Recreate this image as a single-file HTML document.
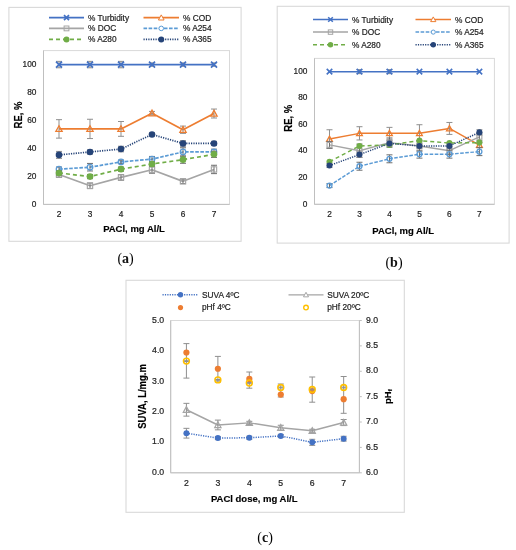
<!DOCTYPE html>
<html><head><meta charset="utf-8"><title>Figure</title>
<style>html,body{margin:0;padding:0;background:#fff;}body{width:516px;height:550px;overflow:hidden;font-family:"Liberation Sans",sans-serif;}svg{display:block;will-change:transform;}</style>
</head><body>
<svg width="516" height="550" viewBox="0 0 516 550">
<rect width="516" height="550" fill="#fff"/>
<rect x="8.9" y="7.4" width="232.20" height="233.90" fill="none" stroke="#D9D9D9" stroke-width="1.1"/>
<rect x="43.5" y="50.6" width="186.00" height="153.80" fill="none" stroke="#D9D9D9" stroke-width="1"/>
<path d="M43.5,50.6V204.4H229.5" fill="none" stroke="#BFBFBF" stroke-width="1"/>
<text x="36.40" y="206.60" font-family="Liberation Sans, sans-serif" font-size="8.3" text-anchor="end" font-weight="normal" fill="#222222" stroke="#222222" stroke-width="0.2" >0</text>
<text x="36.40" y="178.64" font-family="Liberation Sans, sans-serif" font-size="8.3" text-anchor="end" font-weight="normal" fill="#222222" stroke="#222222" stroke-width="0.2" >20</text>
<text x="36.40" y="150.67" font-family="Liberation Sans, sans-serif" font-size="8.3" text-anchor="end" font-weight="normal" fill="#222222" stroke="#222222" stroke-width="0.2" >40</text>
<text x="36.40" y="122.71" font-family="Liberation Sans, sans-serif" font-size="8.3" text-anchor="end" font-weight="normal" fill="#222222" stroke="#222222" stroke-width="0.2" >60</text>
<text x="36.40" y="94.75" font-family="Liberation Sans, sans-serif" font-size="8.3" text-anchor="end" font-weight="normal" fill="#222222" stroke="#222222" stroke-width="0.2" >80</text>
<text x="36.40" y="66.78" font-family="Liberation Sans, sans-serif" font-size="8.3" text-anchor="end" font-weight="normal" fill="#222222" stroke="#222222" stroke-width="0.2" >100</text>
<text x="59.00" y="217.00" font-family="Liberation Sans, sans-serif" font-size="8.3" text-anchor="middle" font-weight="normal" fill="#222222" stroke="#222222" stroke-width="0.2" >2</text>
<text x="90.00" y="217.00" font-family="Liberation Sans, sans-serif" font-size="8.3" text-anchor="middle" font-weight="normal" fill="#222222" stroke="#222222" stroke-width="0.2" >3</text>
<text x="121.00" y="217.00" font-family="Liberation Sans, sans-serif" font-size="8.3" text-anchor="middle" font-weight="normal" fill="#222222" stroke="#222222" stroke-width="0.2" >4</text>
<text x="152.00" y="217.00" font-family="Liberation Sans, sans-serif" font-size="8.3" text-anchor="middle" font-weight="normal" fill="#222222" stroke="#222222" stroke-width="0.2" >5</text>
<text x="183.00" y="217.00" font-family="Liberation Sans, sans-serif" font-size="8.3" text-anchor="middle" font-weight="normal" fill="#222222" stroke="#222222" stroke-width="0.2" >6</text>
<text x="214.00" y="217.00" font-family="Liberation Sans, sans-serif" font-size="8.3" text-anchor="middle" font-weight="normal" fill="#222222" stroke="#222222" stroke-width="0.2" >7</text>
<polyline points="59.00,64.58 90.00,64.58 121.00,64.58 152.00,64.58 183.00,64.58 214.00,64.58" fill="none" stroke="#4472C4" stroke-width="1.7" stroke-linecap="butt" stroke-linejoin="round"/>
<polyline points="59.00,128.90 90.00,128.90 121.00,128.90 152.00,113.24 183.00,129.74 214.00,113.52" fill="none" stroke="#ED7D31" stroke-width="1.7" stroke-linecap="butt" stroke-linejoin="round"/>
<polyline points="59.00,174.48 90.00,185.80 121.00,177.42 152.00,169.73 183.00,181.33 214.00,169.45" fill="none" stroke="#A5A5A5" stroke-width="1.7" stroke-linecap="butt" stroke-linejoin="round"/>
<polyline points="59.00,169.17 90.00,167.21 121.00,161.90 152.00,159.10 183.00,151.97 214.00,151.97" fill="none" stroke="#5B9BD5" stroke-width="1.7" stroke-dasharray="3.6,1.5" stroke-linecap="butt" stroke-linejoin="round"/>
<polyline points="59.00,172.94 90.00,176.58 121.00,169.17 152.00,163.99 183.00,159.66 214.00,154.35" fill="none" stroke="#70AD47" stroke-width="1.7" stroke-dasharray="4,3" stroke-linecap="butt" stroke-linejoin="round"/>
<polyline points="59.00,154.90 90.00,151.97 121.00,149.03 152.00,134.49 183.00,143.44 214.00,143.44" fill="none" stroke="#264478" stroke-width="1.7" stroke-dasharray="1.2,1.2" stroke-linecap="butt" stroke-linejoin="round"/>
<path d="M59.00,61.37V67.80M56.00,61.37H62.00M56.00,67.80H62.00" stroke="#8F8F8F" stroke-width="1" fill="none"/>
<path d="M90.00,61.37V67.80M87.00,61.37H93.00M87.00,67.80H93.00" stroke="#8F8F8F" stroke-width="1" fill="none"/>
<path d="M121.00,61.37V67.80M118.00,61.37H124.00M118.00,67.80H124.00" stroke="#8F8F8F" stroke-width="1" fill="none"/>
<path d="M152.00,62.90V66.26M149.00,62.90H155.00M149.00,66.26H155.00" stroke="#8F8F8F" stroke-width="1" fill="none"/>
<path d="M183.00,62.90V66.26M180.00,62.90H186.00M180.00,66.26H186.00" stroke="#8F8F8F" stroke-width="1" fill="none"/>
<path d="M214.00,62.90V66.26M211.00,62.90H217.00M211.00,66.26H217.00" stroke="#8F8F8F" stroke-width="1" fill="none"/>
<path d="M56.00,61.58L62.00,67.58M62.00,61.58L56.00,67.58" stroke="#4472C4" stroke-width="1.7" fill="none"/>
<path d="M87.00,61.58L93.00,67.58M93.00,61.58L87.00,67.58" stroke="#4472C4" stroke-width="1.7" fill="none"/>
<path d="M118.00,61.58L124.00,67.58M124.00,61.58L118.00,67.58" stroke="#4472C4" stroke-width="1.7" fill="none"/>
<path d="M149.00,61.58L155.00,67.58M155.00,61.58L149.00,67.58" stroke="#4472C4" stroke-width="1.7" fill="none"/>
<path d="M180.00,61.58L186.00,67.58M186.00,61.58L180.00,67.58" stroke="#4472C4" stroke-width="1.7" fill="none"/>
<path d="M211.00,61.58L217.00,67.58M217.00,61.58L211.00,67.58" stroke="#4472C4" stroke-width="1.7" fill="none"/>
<path d="M59.00,119.67V138.13M56.00,119.67H62.00M56.00,138.13H62.00" stroke="#8F8F8F" stroke-width="1" fill="none"/>
<path d="M90.00,119.25V138.55M87.00,119.25H93.00M87.00,138.55H93.00" stroke="#8F8F8F" stroke-width="1" fill="none"/>
<path d="M121.00,121.49V136.31M118.00,121.49H124.00M118.00,136.31H124.00" stroke="#8F8F8F" stroke-width="1" fill="none"/>
<path d="M152.00,111.42V115.06M149.00,111.42H155.00M149.00,115.06H155.00" stroke="#8F8F8F" stroke-width="1" fill="none"/>
<path d="M183.00,126.10V133.37M180.00,126.10H186.00M180.00,133.37H186.00" stroke="#8F8F8F" stroke-width="1" fill="none"/>
<path d="M214.00,109.04V117.99M211.00,109.04H217.00M211.00,117.99H217.00" stroke="#8F8F8F" stroke-width="1" fill="none"/>
<path d="M59.00,125.76L62.15,131.46L55.85,131.46Z" stroke="#ED7D31" stroke-width="1.3" fill="none"/>
<path d="M90.00,125.76L93.15,131.46L86.85,131.46Z" stroke="#ED7D31" stroke-width="1.3" fill="none"/>
<path d="M121.00,125.76L124.15,131.46L117.85,131.46Z" stroke="#ED7D31" stroke-width="1.3" fill="none"/>
<path d="M152.00,110.10L155.15,115.80L148.85,115.80Z" stroke="#ED7D31" stroke-width="1.3" fill="none"/>
<path d="M183.00,126.60L186.15,132.30L179.85,132.30Z" stroke="#ED7D31" stroke-width="1.3" fill="none"/>
<path d="M214.00,110.38L217.15,116.08L210.85,116.08Z" stroke="#ED7D31" stroke-width="1.3" fill="none"/>
<path d="M59.00,171.68V177.28M56.00,171.68H62.00M56.00,177.28H62.00" stroke="#6E6E6E" stroke-width="1" fill="none"/>
<path d="M90.00,183.01V188.60M87.00,183.01H93.00M87.00,188.60H93.00" stroke="#6E6E6E" stroke-width="1" fill="none"/>
<path d="M121.00,174.62V180.21M118.00,174.62H124.00M118.00,180.21H124.00" stroke="#6E6E6E" stroke-width="1" fill="none"/>
<path d="M152.00,166.23V173.22M149.00,166.23H155.00M149.00,173.22H155.00" stroke="#6E6E6E" stroke-width="1" fill="none"/>
<path d="M183.00,179.09V183.57M180.00,179.09H186.00M180.00,183.57H186.00" stroke="#6E6E6E" stroke-width="1" fill="none"/>
<path d="M214.00,165.25V173.64M211.00,165.25H217.00M211.00,173.64H217.00" stroke="#6E6E6E" stroke-width="1" fill="none"/>
<rect x="56.35" y="171.83" width="5.30" height="5.30" stroke="#A5A5A5" stroke-width="1.15" fill="none"/>
<rect x="87.35" y="183.15" width="5.30" height="5.30" stroke="#A5A5A5" stroke-width="1.15" fill="none"/>
<rect x="118.35" y="174.77" width="5.30" height="5.30" stroke="#A5A5A5" stroke-width="1.15" fill="none"/>
<rect x="149.35" y="167.08" width="5.30" height="5.30" stroke="#A5A5A5" stroke-width="1.15" fill="none"/>
<rect x="180.35" y="178.68" width="5.30" height="5.30" stroke="#A5A5A5" stroke-width="1.15" fill="none"/>
<rect x="211.35" y="166.80" width="5.30" height="5.30" stroke="#A5A5A5" stroke-width="1.15" fill="none"/>
<path d="M59.00,167.07V171.26M56.00,167.07H62.00M56.00,171.26H62.00" stroke="#6E6E6E" stroke-width="1" fill="none"/>
<path d="M90.00,163.43V170.98M87.00,163.43H93.00M87.00,170.98H93.00" stroke="#6E6E6E" stroke-width="1" fill="none"/>
<path d="M121.00,160.22V163.57M118.00,160.22H124.00M118.00,163.57H124.00" stroke="#6E6E6E" stroke-width="1" fill="none"/>
<path d="M152.00,156.44V161.76M149.00,156.44H155.00M149.00,161.76H155.00" stroke="#6E6E6E" stroke-width="1" fill="none"/>
<path d="M183.00,147.77V156.16M180.00,147.77H186.00M180.00,156.16H186.00" stroke="#6E6E6E" stroke-width="1" fill="none"/>
<path d="M214.00,149.17V154.76M211.00,149.17H217.00M211.00,154.76H217.00" stroke="#6E6E6E" stroke-width="1" fill="none"/>
<circle cx="59.00" cy="169.17" r="2.75" stroke="#5B9BD5" stroke-width="1.3" fill="none"/>
<circle cx="90.00" cy="167.21" r="2.75" stroke="#5B9BD5" stroke-width="1.3" fill="none"/>
<circle cx="121.00" cy="161.90" r="2.75" stroke="#5B9BD5" stroke-width="1.3" fill="none"/>
<circle cx="152.00" cy="159.10" r="2.75" stroke="#5B9BD5" stroke-width="1.3" fill="none"/>
<circle cx="183.00" cy="151.97" r="2.75" stroke="#5B9BD5" stroke-width="1.3" fill="none"/>
<circle cx="214.00" cy="151.97" r="2.75" stroke="#5B9BD5" stroke-width="1.3" fill="none"/>
<path d="M59.00,170.84V175.04M56.00,170.84H62.00M56.00,175.04H62.00" stroke="#6E6E6E" stroke-width="1" fill="none"/>
<path d="M90.00,174.48V178.67M87.00,174.48H93.00M87.00,178.67H93.00" stroke="#6E6E6E" stroke-width="1" fill="none"/>
<path d="M121.00,167.07V171.26M118.00,167.07H124.00M118.00,171.26H124.00" stroke="#6E6E6E" stroke-width="1" fill="none"/>
<path d="M152.00,161.90V166.09M149.00,161.90H155.00M149.00,166.09H155.00" stroke="#6E6E6E" stroke-width="1" fill="none"/>
<path d="M183.00,156.02V163.29M180.00,156.02H186.00M180.00,163.29H186.00" stroke="#6E6E6E" stroke-width="1" fill="none"/>
<path d="M214.00,151.27V157.42M211.00,151.27H217.00M211.00,157.42H217.00" stroke="#6E6E6E" stroke-width="1" fill="none"/>
<circle cx="59.00" cy="172.94" r="3.30" fill="#70AD47"/>
<circle cx="90.00" cy="176.58" r="3.30" fill="#70AD47"/>
<circle cx="121.00" cy="169.17" r="3.30" fill="#70AD47"/>
<circle cx="152.00" cy="163.99" r="3.30" fill="#70AD47"/>
<circle cx="183.00" cy="159.66" r="3.30" fill="#70AD47"/>
<circle cx="214.00" cy="154.35" r="3.30" fill="#70AD47"/>
<path d="M59.00,151.41V158.40M56.00,151.41H62.00M56.00,158.40H62.00" stroke="#8F8F8F" stroke-width="1" fill="none"/>
<path d="M90.00,149.87V154.07M87.00,149.87H93.00M87.00,154.07H93.00" stroke="#8F8F8F" stroke-width="1" fill="none"/>
<path d="M121.00,146.24V151.83M118.00,146.24H124.00M118.00,151.83H124.00" stroke="#8F8F8F" stroke-width="1" fill="none"/>
<path d="M152.00,133.09V135.89M149.00,133.09H155.00M149.00,135.89H155.00" stroke="#8F8F8F" stroke-width="1" fill="none"/>
<path d="M183.00,140.64V146.24M180.00,140.64H186.00M180.00,146.24H186.00" stroke="#8F8F8F" stroke-width="1" fill="none"/>
<path d="M214.00,141.34V145.54M211.00,141.34H217.00M211.00,145.54H217.00" stroke="#8F8F8F" stroke-width="1" fill="none"/>
<circle cx="59.00" cy="154.90" r="3.30" fill="#264478"/>
<circle cx="90.00" cy="151.97" r="3.30" fill="#264478"/>
<circle cx="121.00" cy="149.03" r="3.30" fill="#264478"/>
<circle cx="152.00" cy="134.49" r="3.30" fill="#264478"/>
<circle cx="183.00" cy="143.44" r="3.30" fill="#264478"/>
<circle cx="214.00" cy="143.44" r="3.30" fill="#264478"/>
<polyline points="49.00,17.70 84.00,17.70" fill="none" stroke="#4472C4" stroke-width="1.7" stroke-linecap="butt" stroke-linejoin="round"/>
<path d="M64.00,15.20L69.00,20.20M69.00,15.20L64.00,20.20" stroke="#4472C4" stroke-width="1.7" fill="none"/>
<text x="88.00" y="20.70" font-family="Liberation Sans, sans-serif" font-size="8.3" text-anchor="start" font-weight="normal" fill="#1e1e1e" stroke="#1e1e1e" stroke-width="0.2" >% Turbidity</text>
<polyline points="49.00,28.40 84.00,28.40" fill="none" stroke="#A5A5A5" stroke-width="1.7" stroke-linecap="butt" stroke-linejoin="round"/>
<rect x="64.10" y="26.00" width="4.80" height="4.80" stroke="#A5A5A5" stroke-width="1.0" fill="none"/>
<text x="88.00" y="31.40" font-family="Liberation Sans, sans-serif" font-size="8.3" text-anchor="start" font-weight="normal" fill="#1e1e1e" stroke="#1e1e1e" stroke-width="0.2" >% DOC</text>
<polyline points="49.00,39.40 84.00,39.40" fill="none" stroke="#70AD47" stroke-width="1.7" stroke-dasharray="4,3" stroke-linecap="butt" stroke-linejoin="round"/>
<circle cx="66.50" cy="39.40" r="3.00" fill="#70AD47"/>
<text x="88.00" y="42.40" font-family="Liberation Sans, sans-serif" font-size="8.3" text-anchor="start" font-weight="normal" fill="#1e1e1e" stroke="#1e1e1e" stroke-width="0.2" >% A280</text>
<polyline points="143.50,17.70 179.00,17.70" fill="none" stroke="#ED7D31" stroke-width="1.7" stroke-linecap="butt" stroke-linejoin="round"/>
<path d="M161.25,14.88L164.09,20.01L158.41,20.01Z" stroke="#ED7D31" stroke-width="1.0" fill="#fff"/>
<text x="183.00" y="20.70" font-family="Liberation Sans, sans-serif" font-size="8.3" text-anchor="start" font-weight="normal" fill="#1e1e1e" stroke="#1e1e1e" stroke-width="0.2" >% COD</text>
<polyline points="143.50,28.40 179.00,28.40" fill="none" stroke="#5B9BD5" stroke-width="1.7" stroke-dasharray="3.6,1.5" stroke-linecap="butt" stroke-linejoin="round"/>
<circle cx="161.25" cy="28.40" r="2.30" stroke="#5B9BD5" stroke-width="1.0" fill="#fff"/>
<text x="183.00" y="31.40" font-family="Liberation Sans, sans-serif" font-size="8.3" text-anchor="start" font-weight="normal" fill="#1e1e1e" stroke="#1e1e1e" stroke-width="0.2" >% A254</text>
<polyline points="143.50,39.40 179.00,39.40" fill="none" stroke="#264478" stroke-width="1.7" stroke-dasharray="1.2,1.2" stroke-linecap="butt" stroke-linejoin="round"/>
<circle cx="161.25" cy="39.40" r="3.00" fill="#264478"/>
<text x="183.00" y="42.40" font-family="Liberation Sans, sans-serif" font-size="8.3" text-anchor="start" font-weight="normal" fill="#1e1e1e" stroke="#1e1e1e" stroke-width="0.2" >% A365</text>
<text x="0" y="0" font-family="Liberation Sans, sans-serif" font-size="9.5" font-weight="bold" fill="#000" stroke="#000" stroke-width="0.15" text-anchor="middle" transform="translate(21.5 115) rotate(-90) scale(1 1.18)">RE, %</text>
<text x="134.00" y="232.30" font-family="Liberation Sans, sans-serif" font-size="9.5" text-anchor="middle" font-weight="bold" fill="#000" stroke="#000" stroke-width="0.15" >PACl, mg Al/L</text>
<text x="125.6" y="262.5" font-family="Liberation Serif, serif" font-size="14" text-anchor="middle" fill="#000">(<tspan font-weight="bold" fill="#111">a</tspan>)</text>
<rect x="277.2" y="6.3" width="231.90" height="236.80" fill="none" stroke="#D9D9D9" stroke-width="1.1"/>
<rect x="314.5" y="58.4" width="179.90" height="145.90" fill="none" stroke="#D9D9D9" stroke-width="1"/>
<path d="M314.5,58.4V204.3H494.4" fill="none" stroke="#BFBFBF" stroke-width="1"/>
<text x="307.40" y="206.50" font-family="Liberation Sans, sans-serif" font-size="8.3" text-anchor="end" font-weight="normal" fill="#222222" stroke="#222222" stroke-width="0.2" >0</text>
<text x="307.40" y="179.97" font-family="Liberation Sans, sans-serif" font-size="8.3" text-anchor="end" font-weight="normal" fill="#222222" stroke="#222222" stroke-width="0.2" >20</text>
<text x="307.40" y="153.45" font-family="Liberation Sans, sans-serif" font-size="8.3" text-anchor="end" font-weight="normal" fill="#222222" stroke="#222222" stroke-width="0.2" >40</text>
<text x="307.40" y="126.92" font-family="Liberation Sans, sans-serif" font-size="8.3" text-anchor="end" font-weight="normal" fill="#222222" stroke="#222222" stroke-width="0.2" >60</text>
<text x="307.40" y="100.39" font-family="Liberation Sans, sans-serif" font-size="8.3" text-anchor="end" font-weight="normal" fill="#222222" stroke="#222222" stroke-width="0.2" >80</text>
<text x="307.40" y="73.86" font-family="Liberation Sans, sans-serif" font-size="8.3" text-anchor="end" font-weight="normal" fill="#222222" stroke="#222222" stroke-width="0.2" >100</text>
<text x="329.49" y="216.90" font-family="Liberation Sans, sans-serif" font-size="8.3" text-anchor="middle" font-weight="normal" fill="#222222" stroke="#222222" stroke-width="0.2" >2</text>
<text x="359.48" y="216.90" font-family="Liberation Sans, sans-serif" font-size="8.3" text-anchor="middle" font-weight="normal" fill="#222222" stroke="#222222" stroke-width="0.2" >3</text>
<text x="389.46" y="216.90" font-family="Liberation Sans, sans-serif" font-size="8.3" text-anchor="middle" font-weight="normal" fill="#222222" stroke="#222222" stroke-width="0.2" >4</text>
<text x="419.44" y="216.90" font-family="Liberation Sans, sans-serif" font-size="8.3" text-anchor="middle" font-weight="normal" fill="#222222" stroke="#222222" stroke-width="0.2" >5</text>
<text x="449.42" y="216.90" font-family="Liberation Sans, sans-serif" font-size="8.3" text-anchor="middle" font-weight="normal" fill="#222222" stroke="#222222" stroke-width="0.2" >6</text>
<text x="479.41" y="216.90" font-family="Liberation Sans, sans-serif" font-size="8.3" text-anchor="middle" font-weight="normal" fill="#222222" stroke="#222222" stroke-width="0.2" >7</text>
<polyline points="329.49,71.66 359.48,71.66 389.46,71.66 419.44,71.66 449.42,71.66 479.41,71.66" fill="none" stroke="#4472C4" stroke-width="1.45" stroke-linecap="butt" stroke-linejoin="round"/>
<polyline points="329.49,139.04 359.48,133.34 389.46,133.34 419.44,133.34 449.42,128.43 479.41,145.01" fill="none" stroke="#ED7D31" stroke-width="1.45" stroke-linecap="butt" stroke-linejoin="round"/>
<polyline points="329.49,144.88 359.48,150.71 389.46,142.62 419.44,145.94 449.42,150.71 479.41,136.79" fill="none" stroke="#A5A5A5" stroke-width="1.45" stroke-linecap="butt" stroke-linejoin="round"/>
<polyline points="329.49,185.60 359.48,166.23 389.46,158.81 419.44,154.16 449.42,154.16 479.41,151.64" fill="none" stroke="#5B9BD5" stroke-width="1.45" stroke-dasharray="3.6,1.5" stroke-linecap="butt" stroke-linejoin="round"/>
<polyline points="329.49,161.72 359.48,145.94 389.46,144.88 419.44,140.63 449.42,143.02 479.41,142.62" fill="none" stroke="#70AD47" stroke-width="1.45" stroke-dasharray="4,3" stroke-linecap="butt" stroke-linejoin="round"/>
<polyline points="329.49,165.57 359.48,154.56 389.46,143.42 419.44,145.94 449.42,145.94 479.41,132.41" fill="none" stroke="#264478" stroke-width="1.45" stroke-dasharray="1.2,1.2" stroke-linecap="butt" stroke-linejoin="round"/>
<path d="M359.48,69.67V73.65M356.48,69.67H362.48M356.48,73.65H362.48" stroke="#8F8F8F" stroke-width="1" fill="none"/>
<path d="M389.46,69.67V73.65M386.46,69.67H392.46M386.46,73.65H392.46" stroke="#8F8F8F" stroke-width="1" fill="none"/>
<path d="M326.73,68.90L332.25,74.42M332.25,68.90L326.73,74.42" stroke="#4472C4" stroke-width="1.564" fill="none"/>
<path d="M356.72,68.90L362.24,74.42M362.24,68.90L356.72,74.42" stroke="#4472C4" stroke-width="1.564" fill="none"/>
<path d="M386.70,68.90L392.22,74.42M392.22,68.90L386.70,74.42" stroke="#4472C4" stroke-width="1.564" fill="none"/>
<path d="M416.68,68.90L422.20,74.42M422.20,68.90L416.68,74.42" stroke="#4472C4" stroke-width="1.564" fill="none"/>
<path d="M446.66,68.90L452.18,74.42M452.18,68.90L446.66,74.42" stroke="#4472C4" stroke-width="1.564" fill="none"/>
<path d="M476.65,68.90L482.17,74.42M482.17,68.90L476.65,74.42" stroke="#4472C4" stroke-width="1.564" fill="none"/>
<path d="M329.49,129.76V148.33M326.49,129.76H332.49M326.49,148.33H332.49" stroke="#8F8F8F" stroke-width="1" fill="none"/>
<path d="M359.48,126.71V139.97M356.48,126.71H362.48M356.48,139.97H362.48" stroke="#8F8F8F" stroke-width="1" fill="none"/>
<path d="M389.46,127.37V139.31M386.46,127.37H392.46M386.46,139.31H392.46" stroke="#8F8F8F" stroke-width="1" fill="none"/>
<path d="M419.44,124.72V141.96M416.44,124.72H422.44M416.44,141.96H422.44" stroke="#8F8F8F" stroke-width="1" fill="none"/>
<path d="M449.42,122.46V134.40M446.42,122.46H452.42M446.42,134.40H452.42" stroke="#8F8F8F" stroke-width="1" fill="none"/>
<path d="M479.41,142.36V147.66M476.41,142.36H482.41M476.41,147.66H482.41" stroke="#8F8F8F" stroke-width="1" fill="none"/>
<path d="M329.49,136.16L332.39,141.40L326.59,141.40Z" stroke="#ED7D31" stroke-width="1.3" fill="none"/>
<path d="M359.48,130.46L362.37,135.70L356.58,135.70Z" stroke="#ED7D31" stroke-width="1.3" fill="none"/>
<path d="M389.46,130.46L392.36,135.70L386.56,135.70Z" stroke="#ED7D31" stroke-width="1.3" fill="none"/>
<path d="M419.44,130.46L422.34,135.70L416.54,135.70Z" stroke="#ED7D31" stroke-width="1.3" fill="none"/>
<path d="M449.42,125.55L452.32,130.79L446.53,130.79Z" stroke="#ED7D31" stroke-width="1.3" fill="none"/>
<path d="M479.41,142.13L482.31,147.37L476.51,147.37Z" stroke="#ED7D31" stroke-width="1.3" fill="none"/>
<path d="M329.49,141.56V148.19M326.49,141.56H332.49M326.49,148.19H332.49" stroke="#6E6E6E" stroke-width="1" fill="none"/>
<path d="M359.48,144.08V157.35M356.48,144.08H362.48M356.48,157.35H362.48" stroke="#6E6E6E" stroke-width="1" fill="none"/>
<path d="M389.46,137.98V147.27M386.46,137.98H392.46M386.46,147.27H392.46" stroke="#6E6E6E" stroke-width="1" fill="none"/>
<path d="M419.44,140.63V151.25M416.44,140.63H422.44M416.44,151.25H422.44" stroke="#6E6E6E" stroke-width="1" fill="none"/>
<path d="M449.42,146.74V154.69M446.42,146.74H452.42M446.42,154.69H452.42" stroke="#6E6E6E" stroke-width="1" fill="none"/>
<path d="M479.41,132.81V140.77M476.41,132.81H482.41M476.41,140.77H482.41" stroke="#6E6E6E" stroke-width="1" fill="none"/>
<rect x="327.05" y="142.44" width="4.88" height="4.88" stroke="#A5A5A5" stroke-width="1.15" fill="none"/>
<rect x="357.04" y="148.28" width="4.88" height="4.88" stroke="#A5A5A5" stroke-width="1.15" fill="none"/>
<rect x="387.02" y="140.19" width="4.88" height="4.88" stroke="#A5A5A5" stroke-width="1.15" fill="none"/>
<rect x="417.00" y="143.50" width="4.88" height="4.88" stroke="#A5A5A5" stroke-width="1.15" fill="none"/>
<rect x="446.99" y="148.28" width="4.88" height="4.88" stroke="#A5A5A5" stroke-width="1.15" fill="none"/>
<rect x="476.97" y="134.35" width="4.88" height="4.88" stroke="#A5A5A5" stroke-width="1.15" fill="none"/>
<path d="M329.49,183.61V187.59M326.49,183.61H332.49M326.49,187.59H332.49" stroke="#6E6E6E" stroke-width="1" fill="none"/>
<path d="M359.48,162.25V170.21M356.48,162.25H362.48M356.48,170.21H362.48" stroke="#6E6E6E" stroke-width="1" fill="none"/>
<path d="M389.46,154.83V162.78M386.46,154.83H392.46M386.46,162.78H392.46" stroke="#6E6E6E" stroke-width="1" fill="none"/>
<path d="M419.44,150.18V158.14M416.44,150.18H422.44M416.44,158.14H422.44" stroke="#6E6E6E" stroke-width="1" fill="none"/>
<path d="M449.42,150.18V158.14M446.42,150.18H452.42M446.42,158.14H452.42" stroke="#6E6E6E" stroke-width="1" fill="none"/>
<path d="M479.41,147.66V155.62M476.41,147.66H482.41M476.41,155.62H482.41" stroke="#6E6E6E" stroke-width="1" fill="none"/>
<circle cx="329.49" cy="185.60" r="2.48" stroke="#5B9BD5" stroke-width="1.3" fill="none"/>
<circle cx="359.48" cy="166.23" r="2.48" stroke="#5B9BD5" stroke-width="1.3" fill="none"/>
<circle cx="389.46" cy="158.81" r="2.48" stroke="#5B9BD5" stroke-width="1.3" fill="none"/>
<circle cx="419.44" cy="154.16" r="2.48" stroke="#5B9BD5" stroke-width="1.3" fill="none"/>
<circle cx="449.42" cy="154.16" r="2.48" stroke="#5B9BD5" stroke-width="1.3" fill="none"/>
<circle cx="479.41" cy="151.64" r="2.48" stroke="#5B9BD5" stroke-width="1.3" fill="none"/>
<circle cx="329.49" cy="161.72" r="3.04" fill="#70AD47"/>
<circle cx="359.48" cy="145.94" r="3.04" fill="#70AD47"/>
<circle cx="389.46" cy="144.88" r="3.04" fill="#70AD47"/>
<circle cx="419.44" cy="140.63" r="3.04" fill="#70AD47"/>
<circle cx="449.42" cy="143.02" r="3.04" fill="#70AD47"/>
<circle cx="479.41" cy="142.62" r="3.04" fill="#70AD47"/>
<path d="M329.49,163.58V167.56M326.49,163.58H332.49M326.49,167.56H332.49" stroke="#8F8F8F" stroke-width="1" fill="none"/>
<path d="M359.48,151.91V157.21M356.48,151.91H362.48M356.48,157.21H362.48" stroke="#8F8F8F" stroke-width="1" fill="none"/>
<path d="M389.46,140.77V146.07M386.46,140.77H392.46M386.46,146.07H392.46" stroke="#8F8F8F" stroke-width="1" fill="none"/>
<path d="M419.44,143.95V147.93M416.44,143.95H422.44M416.44,147.93H422.44" stroke="#8F8F8F" stroke-width="1" fill="none"/>
<path d="M449.42,143.95V147.93M446.42,143.95H452.42M446.42,147.93H452.42" stroke="#8F8F8F" stroke-width="1" fill="none"/>
<path d="M479.41,129.76V135.06M476.41,129.76H482.41M476.41,135.06H482.41" stroke="#8F8F8F" stroke-width="1" fill="none"/>
<circle cx="329.49" cy="165.57" r="3.04" fill="#264478"/>
<circle cx="359.48" cy="154.56" r="3.04" fill="#264478"/>
<circle cx="389.46" cy="143.42" r="3.04" fill="#264478"/>
<circle cx="419.44" cy="145.94" r="3.04" fill="#264478"/>
<circle cx="449.42" cy="145.94" r="3.04" fill="#264478"/>
<circle cx="479.41" cy="132.41" r="3.04" fill="#264478"/>
<polyline points="313.00,19.50 348.00,19.50" fill="none" stroke="#4472C4" stroke-width="1.45" stroke-linecap="butt" stroke-linejoin="round"/>
<path d="M328.20,17.20L332.80,21.80M332.80,17.20L328.20,21.80" stroke="#4472C4" stroke-width="1.564" fill="none"/>
<text x="352.00" y="22.50" font-family="Liberation Sans, sans-serif" font-size="8.3" text-anchor="start" font-weight="normal" fill="#1e1e1e" stroke="#1e1e1e" stroke-width="0.2" >% Turbidity</text>
<polyline points="313.00,32.10 348.00,32.10" fill="none" stroke="#A5A5A5" stroke-width="1.45" stroke-linecap="butt" stroke-linejoin="round"/>
<rect x="328.29" y="29.89" width="4.42" height="4.42" stroke="#A5A5A5" stroke-width="1.0" fill="none"/>
<text x="352.00" y="35.10" font-family="Liberation Sans, sans-serif" font-size="8.3" text-anchor="start" font-weight="normal" fill="#1e1e1e" stroke="#1e1e1e" stroke-width="0.2" >% DOC</text>
<polyline points="313.00,44.80 348.00,44.80" fill="none" stroke="#70AD47" stroke-width="1.45" stroke-dasharray="4,3" stroke-linecap="butt" stroke-linejoin="round"/>
<circle cx="330.50" cy="44.80" r="2.76" fill="#70AD47"/>
<text x="352.00" y="47.80" font-family="Liberation Sans, sans-serif" font-size="8.3" text-anchor="start" font-weight="normal" fill="#1e1e1e" stroke="#1e1e1e" stroke-width="0.2" >% A280</text>
<polyline points="415.50,19.50 451.00,19.50" fill="none" stroke="#ED7D31" stroke-width="1.45" stroke-linecap="butt" stroke-linejoin="round"/>
<path d="M433.25,16.90L435.86,21.62L430.64,21.62Z" stroke="#ED7D31" stroke-width="1.0" fill="#fff"/>
<text x="455.00" y="22.50" font-family="Liberation Sans, sans-serif" font-size="8.3" text-anchor="start" font-weight="normal" fill="#1e1e1e" stroke="#1e1e1e" stroke-width="0.2" >% COD</text>
<polyline points="415.50,32.10 451.00,32.10" fill="none" stroke="#5B9BD5" stroke-width="1.45" stroke-dasharray="3.6,1.5" stroke-linecap="butt" stroke-linejoin="round"/>
<circle cx="433.25" cy="32.10" r="2.08" stroke="#5B9BD5" stroke-width="1.0" fill="#fff"/>
<text x="455.00" y="35.10" font-family="Liberation Sans, sans-serif" font-size="8.3" text-anchor="start" font-weight="normal" fill="#1e1e1e" stroke="#1e1e1e" stroke-width="0.2" >% A254</text>
<polyline points="415.50,44.80 451.00,44.80" fill="none" stroke="#264478" stroke-width="1.45" stroke-dasharray="1.2,1.2" stroke-linecap="butt" stroke-linejoin="round"/>
<circle cx="433.25" cy="44.80" r="2.76" fill="#264478"/>
<text x="455.00" y="47.80" font-family="Liberation Sans, sans-serif" font-size="8.3" text-anchor="start" font-weight="normal" fill="#1e1e1e" stroke="#1e1e1e" stroke-width="0.2" >% A365</text>
<text x="0" y="0" font-family="Liberation Sans, sans-serif" font-size="9.5" font-weight="bold" fill="#000" stroke="#000" stroke-width="0.15" text-anchor="middle" transform="translate(291.9 118.2) rotate(-90) scale(1 1.1)">RE, %</text>
<text x="403.20" y="233.60" font-family="Liberation Sans, sans-serif" font-size="9.5" text-anchor="middle" font-weight="bold" fill="#000" stroke="#000" stroke-width="0.15" >PACl, mg Al/L</text>
<text x="394" y="267.3" font-family="Liberation Serif, serif" font-size="14" text-anchor="middle" fill="#000">(<tspan font-weight="bold" fill="#111">b</tspan>)</text>
<rect x="126.0" y="280.3" width="278.30" height="232.00" fill="none" stroke="#D9D9D9" stroke-width="1.1"/>
<rect x="170.7" y="320.5" width="188.70" height="152.30" fill="none" stroke="#D9D9D9" stroke-width="1"/>
<path d="M170.7,320.5V472.8H359.4" fill="none" stroke="#BFBFBF" stroke-width="1"/>
<path d="M359.4,320.5V472.8" fill="none" stroke="#BFBFBF" stroke-width="1"/>
<text x="164.20" y="474.90" font-family="Liberation Sans, sans-serif" font-size="8.7" text-anchor="end" font-weight="normal" fill="#222222" stroke="#222222" stroke-width="0.2" >0.0</text>
<text x="164.20" y="444.44" font-family="Liberation Sans, sans-serif" font-size="8.7" text-anchor="end" font-weight="normal" fill="#222222" stroke="#222222" stroke-width="0.2" >1.0</text>
<text x="164.20" y="413.98" font-family="Liberation Sans, sans-serif" font-size="8.7" text-anchor="end" font-weight="normal" fill="#222222" stroke="#222222" stroke-width="0.2" >2.0</text>
<text x="164.20" y="383.52" font-family="Liberation Sans, sans-serif" font-size="8.7" text-anchor="end" font-weight="normal" fill="#222222" stroke="#222222" stroke-width="0.2" >3.0</text>
<text x="164.20" y="353.06" font-family="Liberation Sans, sans-serif" font-size="8.7" text-anchor="end" font-weight="normal" fill="#222222" stroke="#222222" stroke-width="0.2" >4.0</text>
<text x="164.20" y="322.60" font-family="Liberation Sans, sans-serif" font-size="8.7" text-anchor="end" font-weight="normal" fill="#222222" stroke="#222222" stroke-width="0.2" >5.0</text>
<text x="365.90" y="474.90" font-family="Liberation Sans, sans-serif" font-size="8.7" text-anchor="start" font-weight="normal" fill="#222222" stroke="#222222" stroke-width="0.2" >6.0</text>
<path d="M359.4,472.80h2.4" stroke="#BFBFBF" stroke-width="1"/>
<text x="365.90" y="449.52" font-family="Liberation Sans, sans-serif" font-size="8.7" text-anchor="start" font-weight="normal" fill="#222222" stroke="#222222" stroke-width="0.2" >6.5</text>
<path d="M359.4,447.42h2.4" stroke="#BFBFBF" stroke-width="1"/>
<text x="365.90" y="424.13" font-family="Liberation Sans, sans-serif" font-size="8.7" text-anchor="start" font-weight="normal" fill="#222222" stroke="#222222" stroke-width="0.2" >7.0</text>
<path d="M359.4,422.03h2.4" stroke="#BFBFBF" stroke-width="1"/>
<text x="365.90" y="398.75" font-family="Liberation Sans, sans-serif" font-size="8.7" text-anchor="start" font-weight="normal" fill="#222222" stroke="#222222" stroke-width="0.2" >7.5</text>
<path d="M359.4,396.65h2.4" stroke="#BFBFBF" stroke-width="1"/>
<text x="365.90" y="373.37" font-family="Liberation Sans, sans-serif" font-size="8.7" text-anchor="start" font-weight="normal" fill="#222222" stroke="#222222" stroke-width="0.2" >8.0</text>
<path d="M359.4,371.27h2.4" stroke="#BFBFBF" stroke-width="1"/>
<text x="365.90" y="347.98" font-family="Liberation Sans, sans-serif" font-size="8.7" text-anchor="start" font-weight="normal" fill="#222222" stroke="#222222" stroke-width="0.2" >8.5</text>
<path d="M359.4,345.88h2.4" stroke="#BFBFBF" stroke-width="1"/>
<text x="365.90" y="322.60" font-family="Liberation Sans, sans-serif" font-size="8.7" text-anchor="start" font-weight="normal" fill="#222222" stroke="#222222" stroke-width="0.2" >9.0</text>
<path d="M359.4,320.50h2.4" stroke="#BFBFBF" stroke-width="1"/>
<text x="186.42" y="485.80" font-family="Liberation Sans, sans-serif" font-size="8.7" text-anchor="middle" font-weight="normal" fill="#222222" stroke="#222222" stroke-width="0.2" >2</text>
<text x="217.88" y="485.80" font-family="Liberation Sans, sans-serif" font-size="8.7" text-anchor="middle" font-weight="normal" fill="#222222" stroke="#222222" stroke-width="0.2" >3</text>
<text x="249.32" y="485.80" font-family="Liberation Sans, sans-serif" font-size="8.7" text-anchor="middle" font-weight="normal" fill="#222222" stroke="#222222" stroke-width="0.2" >4</text>
<text x="280.77" y="485.80" font-family="Liberation Sans, sans-serif" font-size="8.7" text-anchor="middle" font-weight="normal" fill="#222222" stroke="#222222" stroke-width="0.2" >5</text>
<text x="312.23" y="485.80" font-family="Liberation Sans, sans-serif" font-size="8.7" text-anchor="middle" font-weight="normal" fill="#222222" stroke="#222222" stroke-width="0.2" >6</text>
<text x="343.67" y="485.80" font-family="Liberation Sans, sans-serif" font-size="8.7" text-anchor="middle" font-weight="normal" fill="#222222" stroke="#222222" stroke-width="0.2" >7</text>
<polyline points="186.42,409.75 217.88,424.98 249.32,422.85 280.77,427.72 312.23,430.77 343.67,422.54" fill="none" stroke="#A5A5A5" stroke-width="1.45" stroke-linecap="butt" stroke-linejoin="round"/>
<polyline points="186.42,433.20 217.88,438.08 249.32,437.77 280.77,435.94 312.23,442.34 343.67,438.68" fill="none" stroke="#4472C4" stroke-width="1.5" stroke-dasharray="1.2,1.2" stroke-linecap="butt" stroke-linejoin="round"/>
<path d="M186.42,428.33V438.08M183.42,428.33H189.42M183.42,438.08H189.42" stroke="#8F8F8F" stroke-width="1" fill="none"/>
<circle cx="186.42" cy="433.20" r="3.00" fill="#4472C4"/>
<path d="M217.88,436.55V439.60M214.88,436.55H220.88M214.88,439.60H220.88" stroke="#8F8F8F" stroke-width="1" fill="none"/>
<circle cx="217.88" cy="438.08" r="3.00" fill="#4472C4"/>
<path d="M249.32,436.25V439.29M246.32,436.25H252.32M246.32,439.29H252.32" stroke="#8F8F8F" stroke-width="1" fill="none"/>
<circle cx="249.32" cy="437.77" r="3.00" fill="#4472C4"/>
<path d="M280.77,434.42V437.47M277.77,434.42H283.77M277.77,437.47H283.77" stroke="#8F8F8F" stroke-width="1" fill="none"/>
<circle cx="280.77" cy="435.94" r="3.00" fill="#4472C4"/>
<path d="M312.23,439.29V445.39M309.23,439.29H315.23M309.23,445.39H315.23" stroke="#8F8F8F" stroke-width="1" fill="none"/>
<circle cx="312.23" cy="442.34" r="3.00" fill="#4472C4"/>
<path d="M343.67,436.25V441.12M340.67,436.25H346.67M340.67,441.12H346.67" stroke="#8F8F8F" stroke-width="1" fill="none"/>
<circle cx="343.67" cy="438.68" r="3.00" fill="#4472C4"/>
<path d="M186.42,403.35V416.14M183.42,403.35H189.42M183.42,416.14H189.42" stroke="#8F8F8F" stroke-width="1" fill="none"/>
<path d="M186.42,406.61L189.57,412.31L183.27,412.31Z" stroke="#A5A5A5" stroke-width="1.2" fill="none"/>
<path d="M217.88,420.10V429.85M214.88,420.10H220.88M214.88,429.85H220.88" stroke="#8F8F8F" stroke-width="1" fill="none"/>
<path d="M217.88,421.84L221.03,427.54L214.72,427.54Z" stroke="#A5A5A5" stroke-width="1.2" fill="none"/>
<path d="M249.32,421.32V424.37M246.32,421.32H252.32M246.32,424.37H252.32" stroke="#8F8F8F" stroke-width="1" fill="none"/>
<path d="M249.32,419.71L252.47,425.41L246.17,425.41Z" stroke="#A5A5A5" stroke-width="1.2" fill="none"/>
<path d="M280.77,425.28V430.16M277.77,425.28H283.77M277.77,430.16H283.77" stroke="#8F8F8F" stroke-width="1" fill="none"/>
<path d="M280.77,424.58L283.92,430.28L277.62,430.28Z" stroke="#A5A5A5" stroke-width="1.2" fill="none"/>
<path d="M312.23,429.24V432.29M309.23,429.24H315.23M309.23,432.29H315.23" stroke="#8F8F8F" stroke-width="1" fill="none"/>
<path d="M312.23,427.63L315.38,433.33L309.08,433.33Z" stroke="#A5A5A5" stroke-width="1.2" fill="none"/>
<path d="M343.67,419.50V425.59M340.67,419.50H346.67M340.67,425.59H346.67" stroke="#8F8F8F" stroke-width="1" fill="none"/>
<path d="M343.67,419.41L346.82,425.11L340.52,425.11Z" stroke="#A5A5A5" stroke-width="1.2" fill="none"/>
<path d="M186.42,343.60V378.10M183.42,343.60H189.42M183.42,378.10H189.42" stroke="#8F8F8F" stroke-width="1" fill="none"/>
<path d="M217.88,356.40V382.00M214.88,356.40H220.88M214.88,382.00H220.88" stroke="#8F8F8F" stroke-width="1" fill="none"/>
<path d="M249.32,372.00V388.20M246.32,372.00H252.32M246.32,388.20H252.32" stroke="#8F8F8F" stroke-width="1" fill="none"/>
<path d="M280.77,384.00V397.00M277.77,384.00H283.77M277.77,397.00H283.77" stroke="#8F8F8F" stroke-width="1" fill="none"/>
<path d="M312.23,377.00V402.20M309.23,377.00H315.23M309.23,402.20H315.23" stroke="#8F8F8F" stroke-width="1" fill="none"/>
<path d="M343.67,376.50V413.30M340.67,376.50H346.67M340.67,413.30H346.67" stroke="#8F8F8F" stroke-width="1" fill="none"/>
<circle cx="186.42" cy="352.48" r="3.10" fill="#ED7D31"/>
<circle cx="217.88" cy="368.73" r="3.10" fill="#ED7D31"/>
<circle cx="249.32" cy="378.88" r="3.10" fill="#ED7D31"/>
<circle cx="280.77" cy="394.62" r="3.10" fill="#ED7D31"/>
<circle cx="312.23" cy="391.07" r="3.10" fill="#ED7D31"/>
<circle cx="343.67" cy="399.19" r="3.10" fill="#ED7D31"/>
<circle cx="186.42" cy="361.11" r="2.90" stroke="#FFC000" stroke-width="1.6" fill="none"/>
<circle cx="217.88" cy="379.90" r="2.90" stroke="#FFC000" stroke-width="1.6" fill="none"/>
<circle cx="249.32" cy="382.94" r="2.90" stroke="#FFC000" stroke-width="1.6" fill="none"/>
<circle cx="280.77" cy="387.51" r="2.90" stroke="#FFC000" stroke-width="1.6" fill="none"/>
<circle cx="312.23" cy="389.54" r="2.90" stroke="#FFC000" stroke-width="1.6" fill="none"/>
<circle cx="343.67" cy="387.51" r="2.90" stroke="#FFC000" stroke-width="1.6" fill="none"/>
<path d="M186.42,360.71V361.51M184.22,360.71H188.62M184.22,361.51H188.62" stroke="#8F8F8F" stroke-width="1" fill="none"/>
<path d="M217.88,379.50V380.30M215.68,379.50H220.07M215.68,380.30H220.07" stroke="#8F8F8F" stroke-width="1" fill="none"/>
<path d="M249.32,382.54V383.34M247.12,382.54H251.52M247.12,383.34H251.52" stroke="#8F8F8F" stroke-width="1" fill="none"/>
<path d="M280.77,387.11V387.91M278.57,387.11H282.97M278.57,387.91H282.97" stroke="#8F8F8F" stroke-width="1" fill="none"/>
<path d="M312.23,389.14V389.94M310.03,389.14H314.43M310.03,389.94H314.43" stroke="#8F8F8F" stroke-width="1" fill="none"/>
<path d="M343.67,387.11V387.91M341.47,387.11H345.87M341.47,387.91H345.87" stroke="#8F8F8F" stroke-width="1" fill="none"/>
<polyline points="162.50,294.80 198.50,294.80" fill="none" stroke="#4472C4" stroke-width="1.4" stroke-dasharray="1.2,1.2" stroke-linecap="butt" stroke-linejoin="round"/>
<circle cx="180.50" cy="294.80" r="2.70" fill="#4472C4"/>
<text x="202.00" y="297.90" font-family="Liberation Sans, sans-serif" font-size="8.3" text-anchor="start" font-weight="normal" fill="#1e1e1e" stroke="#1e1e1e" stroke-width="0.2" >SUVA 4ºC</text>
<circle cx="180.50" cy="307.60" r="2.60" fill="#ED7D31"/>
<text x="202.00" y="310.20" font-family="Liberation Sans, sans-serif" font-size="8.3" text-anchor="start" font-weight="normal" fill="#1e1e1e" stroke="#1e1e1e" stroke-width="0.2" >pHf 4ºC</text>
<polyline points="288.50,294.80 323.50,294.80" fill="none" stroke="#A5A5A5" stroke-width="1.3" stroke-linecap="butt" stroke-linejoin="round"/>
<path d="M306.00,292.29L308.52,296.85L303.48,296.85Z" stroke="#A5A5A5" stroke-width="1.0" fill="#fff"/>
<text x="327.20" y="297.90" font-family="Liberation Sans, sans-serif" font-size="8.3" text-anchor="start" font-weight="normal" fill="#1e1e1e" stroke="#1e1e1e" stroke-width="0.2" >SUVA 20ºC</text>
<circle cx="306.00" cy="307.60" r="2.30" stroke="#FFC000" stroke-width="1.4" fill="none"/>
<text x="327.20" y="310.20" font-family="Liberation Sans, sans-serif" font-size="8.3" text-anchor="start" font-weight="normal" fill="#1e1e1e" stroke="#1e1e1e" stroke-width="0.2" >pHf 20ºC</text>
<text x="0" y="0" font-family="Liberation Sans, sans-serif" font-size="9.5" font-weight="bold" fill="#000" stroke="#000" stroke-width="0.15" text-anchor="middle" transform="translate(146.2 396.4) rotate(-90) scale(1 1.18)">SUVA, L/mg.m</text>
<text x="0" y="0" font-family="Liberation Sans, sans-serif" font-size="9.5" font-weight="bold" fill="#000" stroke="#000" stroke-width="0.15" text-anchor="middle" transform="translate(391.2 396.7) rotate(-90) scale(1 1.0)">pH<tspan font-size="6" dy="0.4">f</tspan></text>
<text x="254.20" y="502.00" font-family="Liberation Sans, sans-serif" font-size="9.5" text-anchor="middle" font-weight="bold" fill="#000" stroke="#000" stroke-width="0.15" >PACl dose, mg Al/L</text>
<text x="265.1" y="541.9" font-family="Liberation Serif, serif" font-size="14" text-anchor="middle" fill="#000">(<tspan font-weight="bold" fill="#111">c</tspan>)</text>
</svg>
</body></html>
